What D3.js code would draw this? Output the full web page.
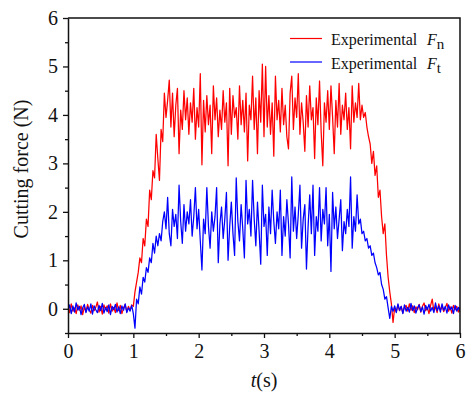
<!DOCTYPE html>
<html>
<head>
  <meta charset="UTF-8">
  <script src="https://cdn.jsdelivr.net/npm/d3@7"></script>
  <title>Cutting force</title>
  <style>
    body { margin: 0; background: #fff; }
    svg text { font-family: "Liberation Serif", "Times New Roman", serif; fill: #111; }
  </style>
</head>
<body>
<svg width="474" height="398"></svg>
<script>

  // sample spacing of the recorded signals (s)
  var sampleStep = 0.025;

  var xTicks = [0, 1, 2, 3, 4, 5, 6];
  var yTicks = [0, 1, 2, 3, 4, 5, 6];
  var xMinor = [0.5, 1.5, 2.5, 3.5, 4.5, 5.5];
  var yMinor = [-0.5, 0.5, 1.5, 2.5, 3.5, 4.5, 5.5];

  var seriesNames = ["n", "t"];
  var seriesColors = ["#ff0000", "#0000ff"];

  // Experimental Fn (N), one value per sample
  var forceN = [
    0.05, -0.08, 0.10, -0.05, 0.02, -0.10, 0.08, -0.03, 0.06, -0.12,
    0.04, -0.06, 0.09, -0.02, -0.09, 0.07, -0.04, 0.03, 0.14, -0.07,
    0.05, -0.11, 0.08, -0.02, 0.06, -0.09, 0.10, -0.05, 0.03, -0.08,
    0.12, -0.04, 0.07, -0.10, 0.02, 0.09, -0.06, 0.05, -0.03, 0.08,
    0.05, 0.35, 0.55, 0.75, 1.05, 0.95, 1.45, 1.30, 1.85, 1.70,
    2.45, 2.25, 2.85, 2.70, 3.60, 3.10, 2.65, 3.70, 3.45, 4.45,
    3.95, 4.30, 4.72, 3.75, 4.45, 3.55, 4.20, 4.55, 3.20, 4.10,
    3.70, 4.50, 3.90, 4.35, 3.60, 4.25, 3.85, 4.55, 3.50, 4.15,
    3.75, 4.85, 2.97, 4.30, 3.65, 4.40, 3.80, 4.20, 3.20, 4.60,
    3.90, 4.35, 3.55, 4.10, 3.70, 4.50, 3.85, 4.25, 2.95, 4.55,
    3.60, 4.40, 3.95, 4.15, 3.50, 4.60, 3.80, 4.30, 3.65, 4.45,
    3.05, 4.20, 3.90, 4.80, 3.70, 4.35, 3.20, 4.50, 3.85, 5.05,
    3.55, 5.00, 3.75, 4.40, 3.60, 4.25, 3.15, 4.80, 3.90, 4.30,
    3.65, 4.55, 3.80, 4.20, 3.55, 3.30, 4.45, 4.80, 3.70, 4.35,
    3.95, 4.85, 3.60, 4.25, 3.85, 3.25, 4.40, 3.75, 4.60, 3.90,
    4.15, 3.10, 4.35, 3.80, 4.70, 3.65, 2.95, 4.25, 3.85, 4.50,
    3.70, 4.60, 3.95, 3.20, 4.30, 3.75, 4.65, 3.60, 4.20, 3.90,
    4.45, 3.70, 4.15, 3.30, 4.60, 3.85, 4.25, 3.95, 4.65, 3.90,
    4.20, 3.95, 4.05, 3.75, 3.55, 3.40, 3.00, 3.25, 2.75, 2.95,
    2.30, 2.45, 1.90, 1.55, 1.75, 1.10, 0.65, 0.35, 0.10, -0.28,
    0.02, -0.06, 0.08, -0.04, 0.05, -0.09, 0.03, 0.07, -0.05, 0.10,
    -0.03, 0.06, -0.08, 0.04, -0.02, 0.09, -0.07, 0.05, 0.12, -0.04,
    0.03, -0.10, 0.07, 0.20, -0.05, 0.04, -0.08, 0.10, -0.03, 0.06,
    -0.06, 0.02, 0.11, -0.05, 0.04, -0.09, 0.07, -0.02, 0.05, -0.07,
    0.03
  ];

  // Experimental Ft (N), one value per sample
  var forceT = [
    -0.04, 0.08, -0.10, 0.06, -0.07, 0.12, -0.03, 0.05, -0.12, 0.02,
    0.09, -0.08, 0.04, -0.05, 0.10, -0.11, 0.06, -0.02, -0.08, 0.07,
    -0.04, 0.11, -0.09, 0.03, -0.06, 0.08, -0.12, 0.05, -0.02, 0.09,
    -0.07, 0.04, -0.10, 0.06, -0.03, 0.10, -0.08, 0.02, -0.05, 0.07,
    -0.10, -0.40, 0.20, 0.10, 0.45, 0.30, 0.65, 0.55, 0.85, 0.75,
    1.05, 0.95, 1.35, 1.15, 1.50, 1.30, 1.55, 1.40, 1.80, 2.00,
    1.65, 2.30, 1.55, 1.30, 2.05, 1.70, 1.95, 1.45, 2.55, 1.80,
    1.35, 2.15, 1.60, 2.00, 1.75, 2.25, 1.50, 1.90, 2.50, 1.65,
    2.05, 1.40, 0.80, 1.85, 1.55, 2.50, 1.70, 1.25, 2.00, 1.60,
    1.90, 2.50, 0.95, 1.75, 2.10, 1.45, 1.85, 2.40, 1.00, 1.70,
    2.20, 1.55, 1.10, 2.70, 1.80, 1.40, 2.15, 1.65, 1.05, 2.65,
    1.75, 2.05, 1.50, 2.65, 1.85, 1.30, 2.20, 1.60, 0.92, 2.55,
    1.70, 1.95, 1.10, 2.10, 1.55, 2.45, 1.80, 1.35, 2.00, 1.65,
    2.45, 1.10, 1.90, 1.50, 2.25, 1.75, 1.05, 2.72, 1.60, 2.10,
    1.45, 1.95, 2.55, 1.25, 1.85, 2.15, 0.82, 1.70, 2.35, 1.55,
    2.55, 1.10, 1.90, 1.60, 2.50, 1.40, 2.05, 1.75, 2.50, 1.30,
    1.95, 0.77, 2.40, 1.65, 2.10, 1.45, 1.85, 2.25, 1.20, 1.80,
    1.55, 2.05, 1.70, 2.72, 1.25, 1.90, 1.60, 2.35, 1.75, 1.85,
    1.55, 1.60, 1.40, 1.45, 1.25, 1.30, 1.10, 1.15, 0.95, 0.85,
    0.70, 0.75, 0.50, 0.40, 0.20, 0.25, 0.02, -0.20, 0.05, -0.05,
    0.06, -0.08, 0.10, -0.03, 0.05, -0.10, 0.08, -0.05, 0.03, -0.07,
    0.11, -0.04, 0.06, -0.09, 0.02, 0.08, -0.06, 0.04, -0.11, 0.07,
    -0.02, 0.09, -0.05, 0.03, -0.08, 0.12, -0.04, 0.06, -0.07, 0.10,
    -0.03, 0.05, -0.09, 0.08, -0.02, 0.04, -0.10, 0.07, -0.05, 0.03,
    -0.06
  ];

  var margin = { top: 18, right: 14, bottom: 65, left: 68 };
  var width = 474 - margin.left - margin.right;
  var height = 398 - margin.top - margin.bottom;

  var svg = d3.select("svg");
  var g = svg.append("g").attr("transform", "translate(" + margin.left + "," + margin.top + ")");

  var x = d3.scaleLinear().domain([0, 6]).range([0, width]);
  var y = d3.scaleLinear().domain([-0.5, 6]).range([height, 0]);

  var line = d3.line()
      .x(function(d, i) { return x(i * sampleStep); })
      .y(function(d) { return y(d); });

  g.append("defs").append("clipPath").attr("id", "plot-clip")
    .append("rect").attr("width", width).attr("height", height);

  g.selectAll("path.series").data([forceN, forceT]).enter()
    .append("path")
      .attr("class", "series")
      .attr("clip-path", "url(#plot-clip)")
      .attr("fill", "none")
      .attr("stroke", function(d, i) { return seriesColors[i]; })
      .attr("stroke-width", 1.25)
      .attr("stroke-linejoin", "round")
      .attr("d", line);

  // frame (top and right)
  g.append("path")
      .attr("fill", "none")
      .attr("stroke", "#111")
      .attr("stroke-width", 1.5)
      .attr("d", ["M", 0, 0, "L", width, 0, "L", width, height].join(" "));

  function styleAxis(sel) {
    sel.select(".domain").attr("stroke", "#111").attr("stroke-width", 1.5);
    sel.selectAll(".tick line").attr("stroke", "#111").attr("stroke-width", 1.3);
    sel.selectAll("text").style("font-size", "20px").attr("fill", "#111");
  }

  g.append("g")
      .attr("transform", "translate(0," + height + ")")
      .call(d3.axisBottom(x).tickValues(xMinor).tickSize(3).tickFormat(""))
      .call(styleAxis)
      .select(".domain").remove();

  g.append("g")
      .call(d3.axisLeft(y).tickValues(yMinor).tickSize(3).tickFormat(""))
      .call(styleAxis)
      .select(".domain").remove();

  g.append("g")
      .attr("transform", "translate(0," + height + ")")
      .call(d3.axisBottom(x).tickValues(xTicks).tickSize(5).tickSizeOuter(0).tickPadding(6).tickFormat(d3.format("d")))
      .call(styleAxis);

  g.append("g")
      .call(d3.axisLeft(y).tickValues(yTicks).tickSize(5).tickSizeOuter(0).tickPadding(5).tickFormat(d3.format("d")))
      .call(styleAxis);

  // axis titles
  var xTitle = svg.append("text")
      .attr("x", margin.left + width / 2)
      .attr("y", 387)
      .attr("text-anchor", "middle")
      .style("font-size", "20px");
  xTitle.append("tspan").style("font-style", "italic").text("t");
  xTitle.append("tspan").text("(s)");

  svg.append("text")
      .attr("transform", "translate(28," + 169 + ") rotate(-90)")
      .attr("text-anchor", "middle")
      .style("font-size", "20px")
      .text("Cutting force (N)");

  // legend
  var legend = svg.append("g").attr("transform", "translate(290,38.5)");
  var rows = legend.selectAll("g").data(seriesNames).enter()
    .append("g")
      .attr("transform", function(d, i) { return "translate(0," + i * 23.5 + ")"; });

  rows.append("line")
      .attr("x1", 0).attr("x2", 32)
      .attr("stroke", function(d, i) { return seriesColors[i]; })
      .attr("stroke-width", 1.2);

  var labels = rows.append("text")
      .attr("x", 41)
      .attr("y", 6.5)
      .style("font-size", "16px");
  labels.append("tspan").text("Experimental");
  labels.append("tspan").attr("x", 137).style("font-style", "italic").text("F");
  labels.append("tspan").attr("dy", 4).style("font-size", "15px").text(function(d) { return d; });

</script>
</body>
</html>
